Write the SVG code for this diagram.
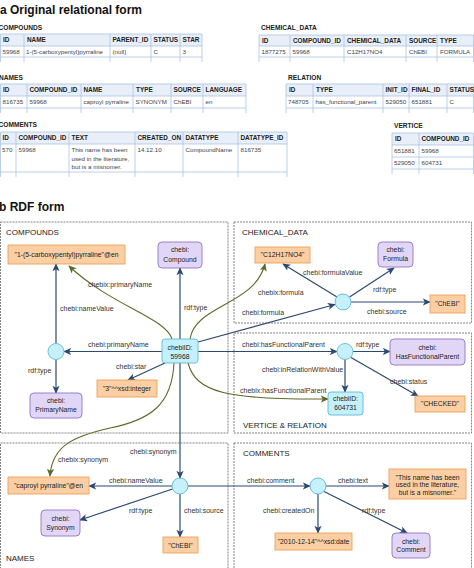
<svg xmlns="http://www.w3.org/2000/svg" width="474" height="568" viewBox="0 0 474 568">
<defs>
<style>
text{font-family:"Liberation Sans",Arial,sans-serif}
.title{font-size:12px;font-weight:bold;fill:#111}
.tname{font-size:6.6px;font-weight:bold;fill:#222}
.th{font-size:6.4px;font-weight:bold;fill:#222}
.td{font-size:6.2px;fill:#444}
.hdr{fill:#e9eff8}
.grid{stroke:#a9c3e6;stroke-width:0.8;fill:none}
.sec{fill:none;stroke:#777;stroke-width:0.9;stroke-dasharray:2 1}
.slab{font-size:8px;fill:#222}
.lbl{font-size:7px;fill:#333}
.nt{font-size:6.8px;fill:#222;text-anchor:middle}
.lit{fill:#fbcfa3;stroke:#eea15a;stroke-width:0.9}
.cls{fill:#e2d6f7;stroke:#8e76c4;stroke-width:0.9}
.res{fill:#c3f0fb;stroke:#5fb9d2;stroke-width:0.9}
.bn{fill:#c6f1fb;stroke:#5fb9d2;stroke-width:0.9}
.e{fill:none;stroke:#2b4a6f;stroke-width:1.2;marker-end:url(#ab)}
.g{fill:none;stroke:#5b6a2a;stroke-width:1.1;marker-end:url(#ag)}
</style>
<marker id="ab" viewBox="0 0 10 10" refX="9" refY="5" markerWidth="8" markerHeight="8" markerUnits="userSpaceOnUse" orient="auto"><path d="M0,0.5 L10,5 L0,9.5 L2.5,5 Z" fill="#2b4a6f"/></marker>
<marker id="ag" viewBox="0 0 10 10" refX="9" refY="5" markerWidth="8" markerHeight="8" markerUnits="userSpaceOnUse" orient="auto"><path d="M0,0.5 L10,5 L0,9.5 L2.5,5 Z" fill="#5b6a2a"/></marker>
</defs>
<rect x="0" y="0" width="474" height="568" fill="#fff"/>

<!-- Part a -->
<text class="title" x="0" y="14">a Original relational form</text>

<g id="tbl-compounds">
<text class="tname" x="-1.5" y="29.5">COMPOUNDS</text>
<rect class="hdr" x="0.5" y="34" width="201.5" height="12"/>
<path class="grid" d="M0.5,34H202M0.5,46H202M0.5,57H202M0.5,34V62M24,34V62M110,34V62M151,34V62M180,34V62M202,34V62"/>
<text class="th" x="3" y="42.3">ID</text>
<text class="th" x="27" y="42.3">NAME</text>
<text class="th" x="112.5" y="42.3">PARENT_ID</text>
<text class="th" x="153.5" y="42.3">STATUS</text>
<text class="th" x="182.5" y="42.3">STAR</text>
<text class="td" x="2.5" y="53.8">59968</text>
<text class="td" x="26" y="53.8">1-(5-carboxypentyl)pyrraline</text>
<text class="td" x="112.5" y="53.8">(null)</text>
<text class="td" x="153.5" y="53.8">C</text>
<text class="td" x="182.5" y="53.8">3</text>
</g>

<g id="tbl-chemical-data">
<text class="tname" x="261" y="29.5">CHEMICAL_DATA</text>
<rect class="hdr" x="259" y="35" width="214.5" height="11"/>
<path class="grid" d="M259,35H473.5M259,46H473.5M259,57H473.5M259,35V62M290,35V62M344,35V62M406,35V62M437,35V62M473.5,35V62"/>
<text class="th" x="262" y="42.8">ID</text>
<text class="th" x="293" y="42.8">COMPOUND_ID</text>
<text class="th" x="347" y="42.8">CHEMICAL_DATA</text>
<text class="th" x="409" y="42.8">SOURCE</text>
<text class="th" x="440" y="42.8">TYPE</text>
<text class="td" x="261.5" y="53.8">1877275</text>
<text class="td" x="292.5" y="53.8">59968</text>
<text class="td" x="347" y="53.8">C12H17NO4</text>
<text class="td" x="409" y="53.8">ChEBI</text>
<text class="td" x="440" y="53.8">FORMULA</text>
</g>

<g id="tbl-names">
<text class="tname" x="-1" y="79.5">NAMES</text>
<rect class="hdr" x="0.5" y="84" width="245.5" height="12"/>
<path class="grid" d="M0.5,84H246M0.5,96H246M0.5,108H246M0.5,84V113M27,84V113M81,84V113M133,84V113M171,84V113M203,84V113M246,84V113"/>
<text class="th" x="3" y="92.3">ID</text>
<text class="th" x="29.5" y="92.3">COMPOUND_ID</text>
<text class="th" x="83.5" y="92.3">NAME</text>
<text class="th" x="136" y="92.3">TYPE</text>
<text class="th" x="173.5" y="92.3">SOURCE</text>
<text class="th" x="205.5" y="92.3">LANGUAGE</text>
<text class="td" x="2.5" y="104.3">816735</text>
<text class="td" x="29.5" y="104.3">59968</text>
<text class="td" x="83.5" y="104.3">caproyl pyrraline</text>
<text class="td" x="135.5" y="104.3">SYNONYM</text>
<text class="td" x="173.5" y="104.3">ChEBI</text>
<text class="td" x="205.5" y="104.3">en</text>
</g>

<g id="tbl-relation">
<text class="tname" x="288" y="79.5">RELATION</text>
<rect class="hdr" x="286" y="84" width="187.5" height="12"/>
<path class="grid" d="M286,84H473.5M286,96H473.5M286,108H473.5M286,84V113M313,84V113M383,84V113M409,84V113M447,84V113M473.5,84V113"/>
<text class="th" x="289" y="92.3">ID</text>
<text class="th" x="316" y="92.3">TYPE</text>
<text class="th" x="385.5" y="92.3">INIT_ID</text>
<text class="th" x="411.5" y="92.3">FINAL_ID</text>
<text class="th" x="449.5" y="92.3">STATUS</text>
<text class="td" x="288" y="104.3">748705</text>
<text class="td" x="315.5" y="104.3">has_functional_parent</text>
<text class="td" x="385.5" y="104.3">529050</text>
<text class="td" x="411.5" y="104.3">651881</text>
<text class="td" x="449.5" y="104.3">C</text>
</g>

<g id="tbl-comments">
<text class="tname" x="-1.5" y="127">COMMENTS</text>
<rect class="hdr" x="0.5" y="132" width="286.5" height="12"/>
<path class="grid" d="M0.5,132H287M0.5,144H287M0.5,172H287M0.5,132V177M16,132V177M69,132V177M135,132V177M183,132V177M238,132V177M287,132V177"/>
<text class="th" x="2.5" y="140.3">ID</text>
<text class="th" x="18.5" y="140.3">COMPOUND_ID</text>
<text class="th" x="71.5" y="140.3">TEXT</text>
<text class="th" x="137.5" y="140.3">CREATED_ON</text>
<text class="th" x="185.5" y="140.3">DATATYPE</text>
<text class="th" x="240.5" y="140.3">DATATYPE_ID</text>
<text class="td" x="2" y="152.3">570</text>
<text class="td" x="18.5" y="152.3">59968</text>
<text class="td" x="71.5" y="152.3">This name has been</text>
<text class="td" x="71.5" y="160.8">used in the literature,</text>
<text class="td" x="71.5" y="169.3">but is a misnomer.</text>
<text class="td" x="137.5" y="152.3">14.12.10</text>
<text class="td" x="185.5" y="152.3">CompoundName</text>
<text class="td" x="240.5" y="152.3">816735</text>
</g>

<g id="tbl-vertice">
<text class="tname" x="394" y="128">VERTICE</text>
<rect class="hdr" x="392" y="133" width="81.5" height="12"/>
<path class="grid" d="M392,133H473.5M392,145H473.5M392,157H473.5M392,169H473.5M392,133V174M419,133V174M473.5,133V174"/>
<text class="th" x="395" y="141.3">ID</text>
<text class="th" x="421.5" y="141.3">COMPOUND_ID</text>
<text class="td" x="394" y="153.3">651881</text>
<text class="td" x="421.5" y="153.3">59968</text>
<text class="td" x="394" y="165.3">529050</text>
<text class="td" x="421.5" y="165.3">604731</text>
</g>

<!-- Part b -->
<text class="title" x="-1" y="211">b RDF form</text>

<g id="sec-compounds"><rect class="sec" x="0.5" y="222" width="227.5" height="211"/><text class="slab" x="6" y="235">COMPOUNDS</text></g>
<g id="sec-chemical-data"><rect class="sec" x="234" y="222" width="237.5" height="101"/><text class="slab" x="242" y="235">CHEMICAL_DATA</text></g>
<g id="sec-vertice-relation"><rect class="sec" x="234" y="333" width="237.5" height="100"/><text class="slab" x="243" y="427.5">VERTICE &amp; RELATION</text></g>
<g id="sec-names"><rect class="sec" x="0.5" y="443" width="227.5" height="140"/><text class="slab" x="6" y="561">NAMES</text></g>
<g id="sec-comments"><rect class="sec" x="234" y="443" width="237.5" height="140"/><text class="slab" x="243" y="455.5">COMMENTS</text></g>

<g id="connectors">
<!-- compounds -->
<path class="e" d="M180,339 L180,268"/>
<path class="e" d="M162,351.5 L64,351.5"/>
<path class="e" d="M56,343.5 L56,264"/>
<path class="e" d="M56,359.5 L56,393"/>
<path class="e" d="M165,363 L128,380"/>
<path class="e" d="M180,363 L180,478"/>
<path class="g" d="M172,339 C166,318 110,305 69,266"/>
<path class="g" d="M174,363 C172,405 150,420 110,428 C75,436 52,445 50,476"/>
<!-- chemical data -->
<path class="e" d="M198,342 L335,304.5"/>
<path class="g" d="M190,339 C195,305 255,305 265,264"/>
<path class="e" d="M337,297 L283,264"/>
<path class="e" d="M349.5,297 L394,268"/>
<path class="e" d="M351,302 L430,302"/>
<!-- vertice & relation -->
<path class="e" d="M198,351.5 L337,351.5"/>
<path class="g" d="M188,363 C196,392 225,400 328,399"/>
<path class="e" d="M353,351.5 L390,351.5"/>
<path class="e" d="M345,359.5 L345,392"/>
<path class="e" d="M351,357.5 L418,396"/>
<!-- names -->
<path class="e" d="M172,486 L89,486"/>
<path class="e" d="M172.5,489 L80,520"/>
<path class="e" d="M180,494 L180,537"/>
<!-- comments -->
<path class="e" d="M188,486 L310,486"/>
<path class="e" d="M326,486 L389,486"/>
<path class="e" d="M318,494 L318,533"/>
<path class="e" d="M324,491.5 L407,533"/>
</g>

<g id="edge-labels">
<text class="lbl" x="60" y="311">chebi:nameValue</text>
<text class="lbl" x="88" y="287">chebix:primaryName</text>
<text class="lbl" x="184" y="310">rdf:type</text>
<text class="lbl" x="88" y="347">chebi:primaryName</text>
<text class="lbl" x="28" y="373">rdf:type</text>
<text class="lbl" x="116" y="369">chebi:star</text>
<text class="lbl" x="130" y="454">chebi:synonym</text>
<text class="lbl" x="58" y="462">chebix:synonym</text>
<text class="lbl" x="242" y="315">chebi:formula</text>
<text class="lbl" x="258" y="295">chebix:formula</text>
<text class="lbl" x="303" y="275">chebi:formulaValue</text>
<text class="lbl" x="373" y="292">rdf:type</text>
<text class="lbl" x="367" y="314">chebi:source</text>
<text class="lbl" x="242" y="346.5">chebi:hasFunctionalParent</text>
<text class="lbl" x="356" y="347">rdf:type</text>
<text class="lbl" x="262" y="372">chebi:inRelationWithValue</text>
<text class="lbl" x="390" y="384">chebi:status</text>
<text class="lbl" x="240" y="392.5">chebix:hasFunctionalParent</text>
<text class="lbl" x="109" y="483">chebi:nameValue</text>
<text class="lbl" x="129" y="513">rdf:type</text>
<text class="lbl" x="184" y="513">chebi:source</text>
<text class="lbl" x="247" y="483">chebi:comment</text>
<text class="lbl" x="338" y="483">chebi:text</text>
<text class="lbl" x="263" y="513">chebi:createdOn</text>
<text class="lbl" x="362" y="513">rdf:type</text>
</g>

<!-- nodes -->
<g id="n-name-lit"><rect class="lit" x="8" y="245" width="117" height="19"/><text class="nt" x="66.5" y="256.8">"1-(5-carboxypentyl)pyrraline"@en</text></g>
<g id="n-compound-cls"><rect class="cls" x="158" y="242" width="44" height="26" rx="4"/><text class="nt" x="180" y="252.4">chebi:</text><text class="nt" x="180" y="261.6">Compound</text></g>
<g id="n-chebi-59968"><rect class="res" x="162" y="339" width="36" height="24" rx="3"/><text class="nt" x="180" y="350">chebiID:</text><text class="nt" x="180" y="358.7">59968</text></g>
<g id="n-blank-primaryname"><circle class="bn" cx="56" cy="351.5" r="8"/></g>
<g id="n-primaryname-cls"><rect class="cls" x="30" y="393" width="52" height="25" rx="4"/><text class="nt" x="56" y="402.5">chebi:</text><text class="nt" x="56" y="411.6">PrimaryName</text></g>
<g id="n-star-lit"><rect class="lit" x="97" y="380" width="60" height="17"/><text class="nt" x="127" y="391">"3"^^xsd:integer</text></g>

<g id="n-formula-lit"><rect class="lit" x="255" y="247" width="55" height="16"/><text class="nt" x="282.5" y="257.3">"C12H17NO4"</text></g>
<g id="n-formula-cls"><rect class="cls" x="378" y="242" width="35" height="25" rx="4"/><text class="nt" x="395.5" y="252.3">chebi:</text><text class="nt" x="395.5" y="261">Formula</text></g>
<g id="n-blank-formula"><circle class="bn" cx="343" cy="302" r="8"/></g>
<g id="n-chebi-source-lit"><rect class="lit" x="430" y="295" width="35" height="18"/><text class="nt" x="447.5" y="306.3">"ChEBI"</text></g>

<g id="n-blank-relation"><circle class="bn" cx="345" cy="351.5" r="8"/></g>
<g id="n-hfp-cls"><rect class="cls" x="390" y="339" width="75" height="26" rx="4"/><text class="nt" x="427.5" y="350">chebi:</text><text class="nt" x="427.5" y="359">HasFunctionalParent</text></g>
<g id="n-chebi-604731"><rect class="res" x="328" y="392" width="35" height="23" rx="3"/><text class="nt" x="345.5" y="400.8">chebiID:</text><text class="nt" x="345.5" y="410">604731</text></g>
<g id="n-checked-lit"><rect class="lit" x="415" y="396" width="50" height="16"/><text class="nt" x="440" y="406.3">"CHECKED"</text></g>

<g id="n-blank-synonym"><circle class="bn" cx="180" cy="486" r="8"/></g>
<g id="n-caproyl-lit"><rect class="lit" x="8" y="477" width="81" height="17"/><text class="nt" x="48.5" y="487.8">"caproyl pyrraline"@en</text></g>
<g id="n-synonym-cls"><rect class="cls" x="41" y="510" width="39" height="26" rx="4"/><text class="nt" x="60.5" y="521">chebi:</text><text class="nt" x="60.5" y="530">Synonym</text></g>
<g id="n-names-source-lit"><rect class="lit" x="163" y="537" width="35" height="16"/><text class="nt" x="180.5" y="547.5">"ChEBI"</text></g>

<g id="n-blank-comment"><circle class="bn" cx="318" cy="486" r="8"/></g>
<g id="n-text-lit"><rect class="lit" x="389" y="469" width="77" height="30"/><text class="nt" x="427.5" y="479.6">"This name has been</text><text class="nt" x="427.5" y="487.3">used in the literature,</text><text class="nt" x="427.5" y="495">but is a misnomer."</text></g>
<g id="n-date-lit"><rect class="lit" x="275" y="533" width="77" height="17"/><text class="nt" x="313.5" y="543.8">"2010-12-14"^^xsd:date</text></g>
<g id="n-comment-cls"><rect class="cls" x="392" y="533" width="38" height="25" rx="4"/><text class="nt" x="411" y="543.8">chebi:</text><text class="nt" x="411" y="552.3">Comment</text></g>
</svg>
